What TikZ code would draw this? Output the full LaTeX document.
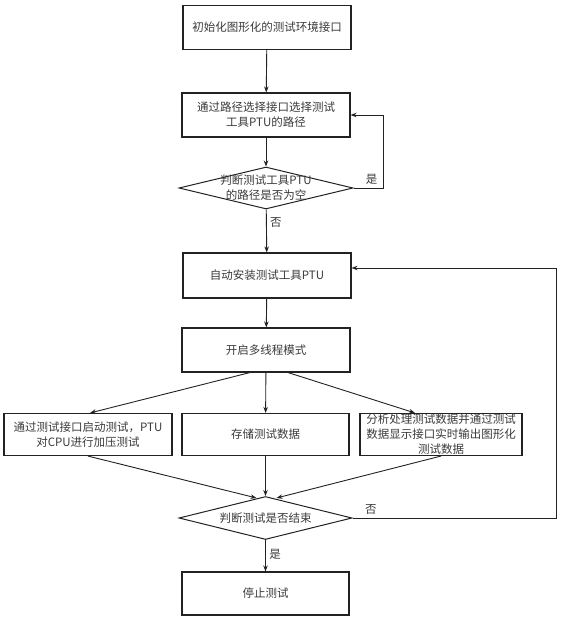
\documentclass[tikz,border=0pt]{standalone}
\usepackage{fontspec}
\setmainfont{Noto Sans CJK SC}
\usepackage{xcolor}
\usepackage{tikz}
\usetikzlibrary{shapes.geometric,arrows.meta}
\definecolor{line}{HTML}{222222}
\definecolor{text}{HTML}{3A3A3A}
\tikzset{
  stepbox/.style={draw=line, line width=1.1pt, minimum width=168pt, minimum height=44pt,
    text width=162pt, align=center, inner sep=1pt, text=text,
    font=\fontsize{11.5pt}{15pt}\selectfont},
  decide/.style={diamond, draw=line, line width=1pt, minimum width=174pt,
    minimum height=42pt, inner sep=0pt},
  lab/.style={text=text, align=center, font=\fontsize{11.5pt}{15pt}\selectfont},
  arr/.style={draw=line, line width=0.9pt, -{Stealth[length=6pt,width=4.5pt]}}
}
\begin{document}
\begin{tikzpicture}[x=1pt,y=-1pt]
  \useasboundingbox (0,0) rectangle (564,620);

  \node[stepbox] (init) at (267,27.5) {初始化图形化的测试环境接口};
  \node[stepbox] (path) at (266,115) {通过路径选择接口选择测试\\工具PTU的路径};
  \node[decide] (chk) at (266,188) {};
  \node[lab] at (chk) {判断测试工具PTU\\的路径是否为空};
  \node[stepbox, minimum height=45pt] (inst) at (267,275.5) {自动安装测试工具PTU};
  \node[stepbox] (multi) at (266,350) {开启多线程模式};

  \node[stepbox, minimum height=42pt] (run) at (88,434.5) {通过测试接口启动测试，PTU\\对CPU进行加压测试};
  \node[stepbox, minimum height=42pt, minimum width=167pt] (store) at (265.5,434.5) {存储测试数据};
  \node[stepbox, minimum height=42pt, minimum width=162pt, text width=160pt, inner ysep=0pt] (ana) at (441,434.5)
    {分析处理测试数据并通过测试\\数据显示接口实时输出图形化\\测试数据};

  \node[decide, minimum width=173pt, minimum height=43pt] (end) at (265.5,518) {};
  \node[lab] at (end) {判断测试是否结束};
  \node[stepbox, minimum height=43pt, minimum width=167pt] (stop) at (265.5,593.5) {停止测试};

  % main column
  \draw[arr] (init) -- (path);
  \draw[arr] (path) -- (chk);
  \draw[arr] (chk) -- node[lab, right, pos=0.3] {否} (inst);
  \draw[arr] (chk.east) -- node[lab, above, pos=0.6] {是} ++(30,0) |- (path.east);
  \draw[arr] (inst) -- (multi);

  % threads
  \draw[arr] ([xshift=-16pt]multi.south) -- ([xshift=2pt]run.north);
  \draw[arr] (multi) -- (store);
  \draw[arr] ([xshift=22pt]multi.south) -- ([xshift=-26pt]ana.north);
  \draw[arr] (run.south) -- ([xshift=-9pt,yshift=-2pt]end.north);
  \draw[arr] (store) -- (end);
  \draw[arr] (ana.south) -- ([xshift=11pt,yshift=-2pt]end.north);

  % loop back
  \draw[arr] (end.east) -- node[lab, above, pos=0.09] {否} ++(204,0) |- ([yshift=7.5pt]inst.east);
  \draw[arr] (end) -- node[lab, right, pos=0.45] {是} (stop);
\end{tikzpicture}
\end{document}
